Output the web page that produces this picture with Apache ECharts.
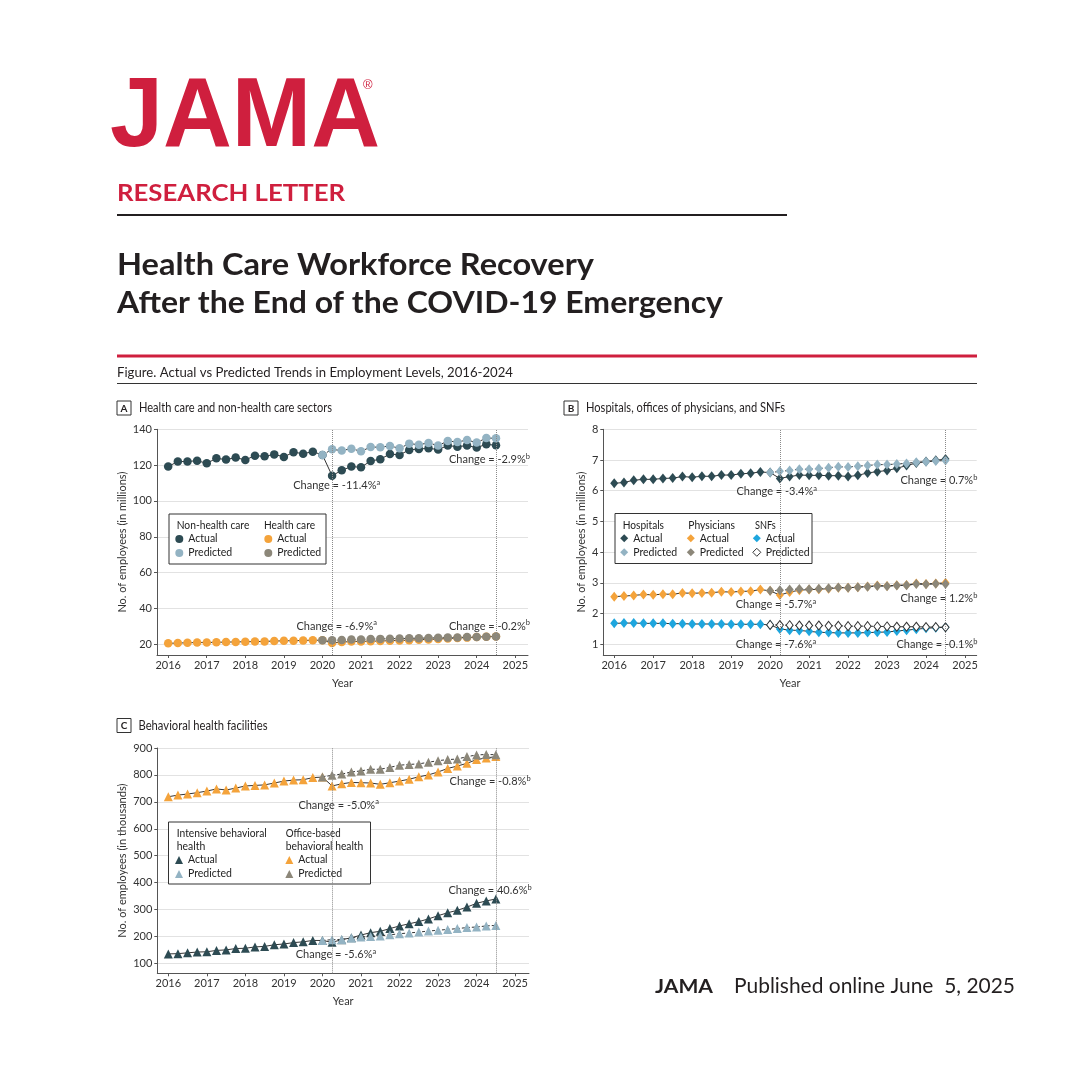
<!DOCTYPE html>
<html><head><meta charset="utf-8">
<script src="https://cdn.jsdelivr.net/npm/echarts@6/dist/echarts.min.js"></script>
<style>html,body{margin:0;padding:0;background:#fff}#c{width:1080px;height:1080px}</style>
</head><body><div id="c"></div>
<script>
// ---------------- DATA ----------------
const quarters = [2016,2016.25,2016.5,2016.75,2017,2017.25,2017.5,2017.75,2018,2018.25,2018.5,2018.75,
  2019,2019.25,2019.5,2019.75,2020,2020.25,2020.5,2020.75,2021,2021.25,2021.5,2021.75,
  2022,2022.25,2022.5,2022.75,2023,2023.25,2023.5,2023.75,2024,2024.25,2024.5];
const predQuarters = [2020,2020.25,2020.5,2020.75,2021,2021.25,2021.5,2021.75,
  2022,2022.25,2022.5,2022.75,2023,2023.25,2023.5,2023.75,2024,2024.25,2024.5];
const yearTicks = [2016,2017,2018,2019,2020,2021,2022,2023,2024,2025];
const yTicksA = [20,40,60,80,100,120,140];
const yTicksB = [1,2,3,4,5,6,7,8];
const yTicksC = [100,200,300,400,500,600,700,800,900];

// Panel A (millions)
const nonHealthActual = [119.2,122.0,122.0,122.5,121.0,123.8,123.1,124.2,122.9,125.3,124.9,126.0,124.6,127.2,126.4,127.5,
  125.7,114.1,117.1,119.2,118.8,122.3,123.3,126.2,125.7,128.5,129.0,129.4,128.7,130.9,130.3,130.9,129.8,131.6,131.1];
const nonHealthPredicted = [125.7,128.8,128.1,129.2,127.7,130.1,130.0,130.7,129.4,132.0,131.4,132.4,130.9,133.5,132.9,134.0,132.6,135.1,135.0];
const healthActual = [20.5,20.7,20.8,21.0,21.0,21.1,21.2,21.3,21.4,21.5,21.6,21.8,21.9,22.0,22.1,22.3,
  22.2,20.7,21.2,21.5,21.6,21.7,21.8,22.0,22.1,22.3,22.5,22.7,22.9,23.2,23.5,23.7,24.0,24.2,24.3];
const healthPredicted = [22.2,22.2,22.4,22.6,22.7,22.9,23.0,23.1,23.2,23.3,23.4,23.5,23.6,23.7,23.8,24.0,24.1,24.2,24.35];

// Panel B (millions)
const hospitalsActual = [6.24,6.27,6.34,6.37,6.37,6.40,6.41,6.46,6.44,6.47,6.47,6.51,6.51,6.55,6.57,6.61,
  6.59,6.40,6.46,6.51,6.50,6.50,6.49,6.49,6.46,6.50,6.58,6.62,6.66,6.73,6.82,6.90,6.95,6.99,7.03];
const hospitalsPredicted = [6.59,6.63,6.66,6.70,6.70,6.72,6.75,6.78,6.77,6.80,6.82,6.85,6.85,6.87,6.89,6.93,6.94,6.97,6.98];
const physiciansActual = [2.55,2.57,2.59,2.62,2.61,2.63,2.63,2.67,2.66,2.67,2.68,2.71,2.70,2.72,2.73,2.78,
  2.74,2.60,2.70,2.76,2.78,2.79,2.81,2.84,2.84,2.86,2.88,2.91,2.90,2.92,2.93,2.98,2.96,2.98,3.00];
const physiciansPredicted = [2.74,2.76,2.78,2.80,2.79,2.81,2.82,2.85,2.84,2.86,2.87,2.90,2.89,2.91,2.92,2.96,2.95,2.97,2.96];
const snfActual = [1.68,1.69,1.69,1.68,1.68,1.68,1.67,1.67,1.66,1.66,1.66,1.66,1.65,1.65,1.65,1.65,
  1.63,1.50,1.46,1.45,1.42,1.39,1.38,1.37,1.37,1.37,1.38,1.39,1.40,1.43,1.46,1.49,1.52,1.54,1.55];
const snfPredicted = [1.63,1.625,1.62,1.61,1.61,1.61,1.60,1.60,1.59,1.59,1.59,1.58,1.58,1.57,1.57,1.57,1.56,1.56,1.552];

// Panel C (thousands)
const officeActual = [719,725,729,734,740,748,744,751,759,761,763,770,777,781,782,790,
  792,759,767,772,771,770,765,771,777,784,793,800,811,824,833,843,857,863,868];
const officePredicted = [792,799,803,811,815,821,821,828,836,839,841,847,853,857,859,868,874,876,875];
const intensiveActual = [135,136,139,142,143,148,150,155,156,161,163,169,172,177,180,185,
  185,178,188,195,205,214,219,229,239,247,255,265,277,288,297,309,323,332,339];
const intensivePredicted = [185,188,189,194,198,200,202,206,210,213,216,220,223,226,229,233,235,239,241];

// ---------------- STYLE ----------------
const FONT = 'Lato, "Noto Sans", sans-serif';
const RED = '#CF1F3E';
const INK = '#231f20';
const C_DARK = '#2D4B53', C_LIGHT = '#93B3C3', C_ORANGE = '#F4A33B', C_TAUPE = '#8C8779', C_CYAN = '#1EA6DE';

const mctx = document.createElement('canvas').getContext('2d');
function T(text, x, y, font, fill, w, align) {
  let s = 1;
  if (w) { mctx.font = font; s = w / mctx.measureText(text).width; }
  return { type: 'text', x: x, y: y, scaleX: s, z: 20,
    style: { text: text, font: font, fill: fill, align: align || 'left', verticalAlign: 'middle',
             textAlign: align || 'left', textVerticalAlign: 'middle' } };
}
function hline(x1, x2, y, w, c) {
  return { type: 'line', z: 20, shape: { x1: x1, y1: y, x2: x2, y2: y }, style: { stroke: c, lineWidth: w } };
}
function box(x, y, w, h, z) {
  return { type: 'rect', z: z || 20, shape: { x: x, y: y, width: w, height: h },
           style: { fill: '#fff', stroke: '#333', lineWidth: 1 } };
}
function pairs(xs, ys) { return ys.map((v, i) => [xs[i], v]); }

const axisTxt = { color: '#333', fontSize: 11, fontFamily: FONT };
function xAx(idx, min, max) {
  return { type: 'value', gridIndex: idx, min: min, max: max, splitNumber: 9,
    name: 'Year', nameLocation: 'middle', nameGap: 23, nameTextStyle: axisTxt,
    axisLine: { show: true, onZero: false, lineStyle: { color: '#555', width: 1 } },
    axisTick: { show: true, length: 3, customValues: yearTicks, lineStyle: { color: '#555' } },
    axisLabel: Object.assign({ customValues: yearTicks, margin: 5,
      formatter: v => (Number.isInteger(v) ? String(v) : '') }, axisTxt),
    splitLine: { show: false } };
}
function yAx(idx, min, max, split, ticks, name, gap) {
  return { type: 'value', gridIndex: idx, min: min, max: max, splitNumber: split,
    name: name, nameLocation: 'middle', nameGap: gap, nameTextStyle: axisTxt,
    axisLine: { show: true, lineStyle: { color: '#555', width: 1 } },
    axisTick: { show: true, length: 3, customValues: ticks, lineStyle: { color: '#555' } },
    axisLabel: Object.assign({ customValues: ticks, margin: 5,
      formatter: v => (ticks.indexOf(v) >= 0 ? String(v) : '') }, axisTxt),
    splitLine: { show: true, lineStyle: { color: '#e2e2e2', width: 1 } } };
}

function ser(name, idx, xs, ys, symbol, color, size, dashed, extra) {
  return Object.assign({
    type: 'line', name: name, xAxisIndex: idx, yAxisIndex: idx, data: pairs(xs, ys),
    symbol: symbol, symbolSize: size, showAllSymbol: true, animation: false, silent: true,
    itemStyle: { color: color },
    lineStyle: { color: '#333', width: 1, type: dashed ? [3, 2] : 'solid' },
    z: dashed ? 3 : 2
  }, extra || {});
}
function guides() {
  return { silent: true, symbol: 'none', animation: false,
    label: { show: false },
    lineStyle: { color: '#8a8a8a', type: 'dotted', width: 1 },
    data: [{ xAxis: 2020.25 }, { xAxis: 2024.5 }] };
}
function notes(list) {
  return { silent: true, symbol: 'circle', symbolSize: 0, animation: false,
    itemStyle: { color: 'transparent' },
    label: { show: true, position: 'inside', formatter: '{b}', color: '#333', fontSize: 11, fontFamily: FONT,
      lineHeight: 14,
      rich: { s: { fontSize: 7.5, fontFamily: FONT, color: '#333', padding: [0, 0, 6, 0] } } },
    data: list.map(d => ({ name: d[0], coord: [d[1], d[2]] })) };
}

const lgBase = { orient: 'vertical', itemWidth: 8, itemHeight: 8, itemGap: 0, padding: 0, z: 10,
  selectedMode: false, formatter: n => n.split(': ')[1],
  textStyle: { fontFamily: FONT, fontSize: 10.5, color: '#222', lineHeight: 14 } };
function lg(left, top, items) {
  return Object.assign({}, lgBase, { left: left, top: top, data: items });
}

const series = [
  // A
  ser('Non-health care: Actual', 0, quarters, nonHealthActual, 'circle', C_DARK, 8.5, false,
    { markLine: guides(), markPoint: notes([
      ['Change = -11.4%{s|a}', 2020.37, 108.4], ['Change = -2.9%{s|b}', 2024.33, 122.9],
      ['Change = -6.9%{s|a}', 2020.37, 30.2], ['Change = -0.2%{s|b}', 2024.33, 30.2]]) }),
  ser('Health care: Actual', 0, quarters, healthActual, 'circle', C_ORANGE, 8.5, false),
  ser('Non-health care: Predicted', 0, predQuarters, nonHealthPredicted, 'circle', C_LIGHT, 8.5, true),
  ser('Health care: Predicted', 0, predQuarters, healthPredicted, 'circle', C_TAUPE, 8.5, true),
  // B
  ser('Hospitals: Actual', 1, quarters, hospitalsActual, 'diamond', C_DARK, [8, 10], false,
    { markLine: guides(), markPoint: notes([
      ['Change = -3.4%{s|a}', 2020.17, 5.97], ['Change = 0.7%{s|b}', 2024.33, 6.33],
      ['Change = -5.7%{s|a}', 2020.15, 2.28], ['Change = 1.2%{s|b}', 2024.33, 2.50],
      ['Change = -7.6%{s|a}', 2020.15, 1.0], ['Change = -0.1%{s|b}', 2024.28, 1.0]]) }),
  ser('Physicians: Actual', 1, quarters, physiciansActual, 'diamond', C_ORANGE, [8, 10], false),
  ser('SNFs: Actual', 1, quarters, snfActual, 'diamond', C_CYAN, [8, 10], false),
  ser('Hospitals: Predicted', 1, predQuarters, hospitalsPredicted, 'diamond', C_LIGHT, [8, 10], true),
  ser('Physicians: Predicted', 1, predQuarters, physiciansPredicted, 'diamond', C_TAUPE, [8, 10], true),
  ser('SNFs: Predicted', 1, predQuarters, snfPredicted, 'diamond', '#fff', [7, 9], true,
    { itemStyle: { color: '#fff', borderColor: '#333', borderWidth: 1 } }),
  // C
  ser('Office-based behavioral health: Actual', 2, quarters, officeActual, 'triangle', C_ORANGE, 9, false,
    { markLine: guides(), markPoint: notes([
      ['Change = -5.0%{s|a}', 2020.42, 688], ['Change = -0.8%{s|b}', 2024.35, 775],
      ['Change = 40.6%{s|b}', 2024.35, 372], ['Change = -5.6%{s|a}', 2020.35, 134]]) }),
  ser('Intensive behavioral health: Actual', 2, quarters, intensiveActual, 'triangle', C_DARK, 9, false),
  ser('Office-based behavioral health: Predicted', 2, predQuarters, officePredicted, 'triangle', C_TAUPE, 9, true),
  ser('Intensive behavioral health: Predicted', 2, predQuarters, intensivePredicted, 'triangle', C_LIGHT, 9, true)
];

const graphics = [
  T('JAMA', 110, 119, 'bold 99px "Liberation Sans", Arial, sans-serif', RED, 270),
  T('\u00AE', 363, 85, '13px "Liberation Sans", sans-serif', RED),
  T('RESEARCH LETTER', 117, 194, 'bold 23px Lato', RED, 228),
  hline(117, 787, 215, 2, INK),
  T('Health Care Workforce Recovery', 117, 265, 'bold 30px Lato', INK, 477),
  T('After the End of the COVID-19 Emergency', 117, 303.5, 'bold 30px Lato', INK, 606),
  hline(117, 977, 356, 3, RED),
  T('Figure. Actual vs Predicted Trends in Employment Levels, 2016-2024', 117, 372, '14px Lato', INK, 396),
  hline(117, 977, 383.5, 1, '#333'),
  // panel labels
  box(117, 401, 14, 14, 20), T('A', 124, 408.5, 'bold 10px Lato', INK, 0, 'center'),
  T('Health care and non-health care sectors', 139, 408, '12.5px Lato', INK, 193),
  box(564, 401, 14, 14, 20), T('B', 571, 408.5, 'bold 10px Lato', INK, 0, 'center'),
  T('Hospitals, offices of physicians, and SNFs', 586, 408, '12.5px Lato', INK, 199),
  box(117, 718.5, 14, 14, 20), T('C', 124, 726, 'bold 10px Lato', INK, 0, 'center'),
  T('Behavioral health facilities', 138.5, 725.5, '12.5px Lato', INK, 129),
  // legend boxes
  box(169, 514, 157, 50, 5),
  T('Non-health care', 176.7, 525, '11px Lato', '#222', 72.6),
  T('Health care', 264, 525, '11px Lato', '#222', 51),
  box(615, 513.5, 197, 50, 5),
  T('Hospitals', 622.7, 525, '11px Lato', '#222', 41.3),
  T('Physicians', 688.3, 525, '11px Lato', '#222', 46.7),
  T('SNFs', 755, 525, '11px Lato', '#222', 20.7),
  box(168.5, 822, 202, 62, 5),
  T('Intensive behavioral', 176.7, 833.3, '11px Lato', '#222', 90),
  T('health', 176.7, 846.7, '11px Lato', '#222', 28.5),
  T('Office-based', 285.7, 833.3, '11px Lato', '#222', 55),
  T('behavioral health', 285.7, 846.7, '11px Lato', '#222', 77.6),
  // footer
  T('JAMA', 655, 986.5, 'bold 19px Lato', INK, 58),
  T('Published online June  5, 2025', 734, 986, '21px Lato', INK, 281)
];

const option = {
  backgroundColor: '#fff',
  animation: false,
  textStyle: { fontFamily: FONT },
  grid: [
    { left: 157, top: 429.3, width: 371, height: 225.7 },
    { left: 603.3, top: 429.3, width: 373.4, height: 225.7 },
    { left: 157.3, top: 748, width: 371.7, height: 225.3 }
  ],
  xAxis: [xAx(0, 2015.71, 2025.33), xAx(1, 2015.72, 2025.3), xAx(2, 2015.714, 2025.36)],
  yAxis: [
    yAx(0, 14, 140, 6, yTicksA, 'No. of employees (in millions)', 29),
    yAx(1, 0.65, 8, 7, yTicksB, 'No. of employees (in millions)', 16),
    yAx(2, 63, 900, 8, yTicksC, 'No. of employees (in thousands)', 29)
  ],
  legend: [
    lg(175.3, 532, [{ name: 'Non-health care: Actual', icon: 'circle' }, { name: 'Non-health care: Predicted', icon: 'circle' }]),
    lg(264.3, 532, [{ name: 'Health care: Actual', icon: 'circle' }, { name: 'Health care: Predicted', icon: 'circle' }]),
    lg(620.2, 531.3, [{ name: 'Hospitals: Actual', icon: 'diamond' }, { name: 'Hospitals: Predicted', icon: 'diamond' }]),
    lg(686.8, 531.3, [{ name: 'Physicians: Actual', icon: 'diamond' }, { name: 'Physicians: Predicted', icon: 'diamond' }]),
    lg(752.3, 531.3, [{ name: 'SNFs: Actual', icon: 'diamond' },
      { name: 'SNFs: Predicted', icon: 'diamond', itemStyle: { color: '#fff', borderColor: '#333', borderWidth: 1 } }]),
    lg(175, 853, [{ name: 'Intensive behavioral health: Actual', icon: 'triangle' }, { name: 'Intensive behavioral health: Predicted', icon: 'triangle' }]),
    lg(285.3, 853, [{ name: 'Office-based behavioral health: Actual', icon: 'triangle' }, { name: 'Office-based behavioral health: Predicted', icon: 'triangle' }])
  ],
  graphic: graphics,
  series: series
};

const chart = echarts.init(document.getElementById('c'), null, { renderer: 'canvas' });
chart.setOption(option);
</script></body></html>
